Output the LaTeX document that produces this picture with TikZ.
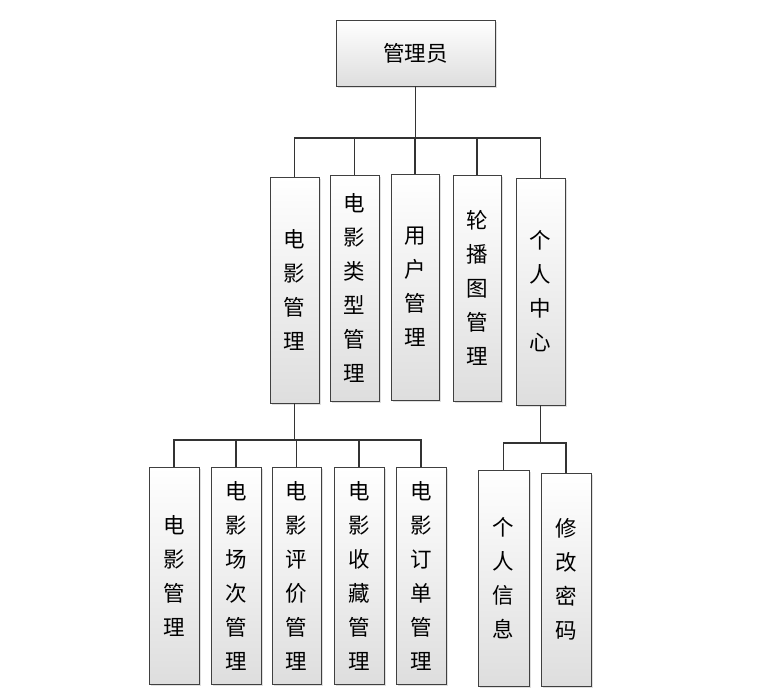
\documentclass[tikz,border=0pt]{standalone}
\usepackage{fontspec}
\setmainfont{Noto Sans CJK SC}
\usetikzlibrary{shadows}
\begin{document}
\begin{tikzpicture}[x=1pt,y=-1pt,
  bx/.style={draw=black!75,line width=0.6pt,top color=white,bottom color=black!13,
    drop shadow={shadow xshift=1.5pt,shadow yshift=-1.5pt,fill=black!25},
    inner sep=0pt,align=center,font=\fontsize{21.5}{34}\selectfont},
  ln/.style={draw=black!80,line width=1.3pt}]
\useasboundingbox (0,0) rectangle (773,696);
\newcommand\mybox[6]{\node[bx,minimum width=#3-#2,minimum height=#5-#4] (#1) at ({(#2+#3)/2},{(#4+#5)/2}) {#6};}
\node[bx,minimum width=159,minimum height=66] (root) at (415.5,53) {管理员};
\mybox{a}{270}{319}{177}{403}{电\\影\\管\\理}
\mybox{b}{330}{379}{175}{401}{电\\影\\类\\型\\管\\理}
\mybox{c}{391}{439}{174}{400}{用\\户\\管\\理}
\mybox{d}{453}{501}{175}{401}{轮\\播\\图\\管\\理}
\mybox{e}{516}{565}{178}{405}{个\\人\\中\\心}
\mybox{a1}{149}{199}{467}{684}{电\\影\\管\\理}
\mybox{a2}{211}{261}{467}{684}{电\\影\\场\\次\\管\\理}
\mybox{a3}{272}{321}{467}{684}{电\\影\\评\\价\\管\\理}
\mybox{a4}{334}{384}{467}{684}{电\\影\\收\\藏\\管\\理}
\mybox{a5}{396}{446}{467}{684}{电\\影\\订\\单\\管\\理}
\mybox{e1}{478}{529}{470}{686}{个\\人\\信\\息}
\mybox{e2}{541}{591}{473}{686}{修\\改\\密\\码}
\draw[ln] (root.south) -- (415.5,138);
\foreach \n in {a,b,c,d,e} \draw[ln] (415.5,138) -| (\n.north);
\draw[ln] (a.south) -- (a.south |- 0,440);
\foreach \n in {a1,a2,a3,a4,a5} \draw[ln] (a.south |- 0,440) -| (\n.north);
\draw[ln] (e.south) -- (e.south |- 0,443);
\foreach \n in {e1,e2} \draw[ln] (e.south |- 0,443) -| (\n.north);
\end{tikzpicture}
\end{document}
